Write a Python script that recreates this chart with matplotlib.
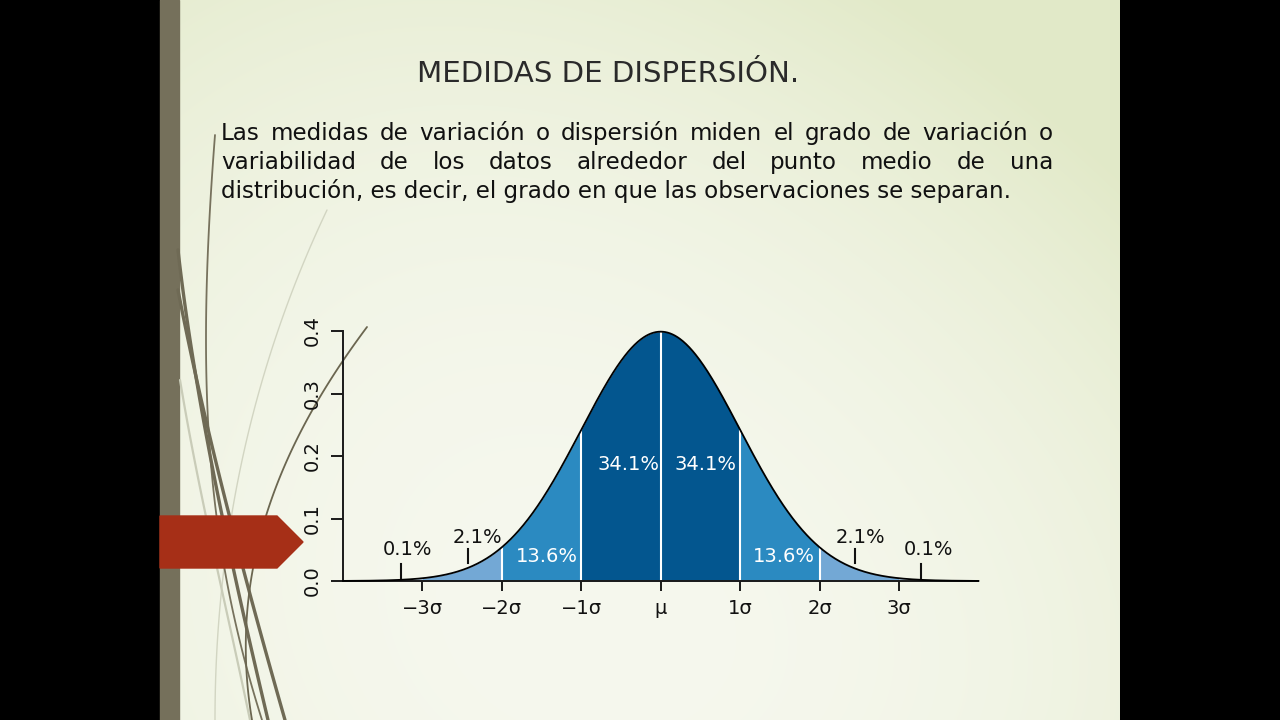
import numpy as np
import matplotlib
matplotlib.use("Agg")
import matplotlib.pyplot as plt
from matplotlib.patches import Rectangle, Polygon

# ---- chart content ----
sigma_edges = [-4, -3, -2, -1, 0, 1, 2, 3, 4]
band_pct = [0.1, 2.1, 13.6, 34.1, 34.1, 13.6, 2.1, 0.1]
band_colors = ['#b4cfe8', '#73a8d5', '#2b8ac1', '#03568f',
               '#03568f', '#2b8ac1', '#73a8d5', '#b4cfe8']
xtick_pos = [-3, -2, -1, 0, 1, 2, 3]
xtick_labels = ['\u22123\u03c3', '\u22122\u03c3', '\u22121\u03c3', '\u03bc', '1\u03c3', '2\u03c3', '3\u03c3']
ytick_pos = [0.0, 0.1, 0.2, 0.3, 0.4]
ytick_labels = ['0.0', '0.1', '0.2', '0.3', '0.4']

title = 'MEDIDAS DE DISPERSI\u00d3N.'
para_lines = [
    'Las medidas de variaci\u00f3n o dispersi\u00f3n miden el grado de variaci\u00f3n o',
    'variabilidad de los datos alrededor del punto medio de una',
    'distribuci\u00f3n, es decir, el grado en que las observaciones se separan.',
]

W, H = 1280, 720
fig = plt.figure(figsize=(12.8, 7.2), dpi=100, facecolor='black')
renderer = fig.canvas.get_renderer()

# ---- slide background (pixel coordinates) ----
bg = fig.add_axes([0, 0, 1, 1])
bg.set_xlim(0, W)
bg.set_ylim(H, 0)
bg.axis('off')
bg.set_facecolor('black')

yy, xx = np.mgrid[0:H, 160:1120]
d = np.sqrt(((xx - 600) / 720.0) ** 2 + ((yy - 560) / 700.0) ** 2)
d = np.clip(d, 0, 1) ** 2.2
# extra green towards the top right corner
tr = np.clip(((xx - 160) / 960.0) * (1 - yy / 720.0), 0, 1) ** 1.5
d = np.clip(0.75 * d + 0.6 * tr, 0, 1)
c0 = np.array([0.965, 0.972, 0.935])
c1 = np.array([0.885, 0.915, 0.785])
img = c0[None, None, :] * (1 - d[..., None]) + c1[None, None, :] * d[..., None]
bg.imshow(img, extent=[160, 1120, H, 0], aspect='auto', zorder=0)

bg.add_patch(Rectangle((160, 0), 19, H, color='#75705b', zorder=1))


def bez(p0, p1, p2, p3, n=120):
    t = np.linspace(0, 1, n)[:, None]
    p = ((1 - t) ** 3) * np.array(p0) + 3 * ((1 - t) ** 2) * t * np.array(p1) \
        + 3 * (1 - t) * t ** 2 * np.array(p2) + t ** 3 * np.array(p3)
    return p[:, 0], p[:, 1]


# decorative strokes
deco = [
    ((327, 210), (270, 330), (215, 500), (215, 720), '#d2d5c2', 1.0),
    ((180, 380), (200, 500), (225, 600), (250, 720), '#c9ccb8', 1.6),
    ((215, 135), (196, 380), (205, 540), (262, 720), '#77725d', 1.3),
    ((178, 250), (195, 400), (230, 560), (268, 720), '#6f6a55', 2.4),
    ((178, 290), (205, 430), (245, 580), (285, 720), '#6f6a55', 2.4),
    ((367, 327), (290, 430), (225, 560), (252, 720), '#6b6650', 1.3),
]
for p0, p1, p2, p3, col, lw in deco:
    x, y = bez(p0, p1, p2, p3)
    bg.plot(x, y, color=col, lw=lw, zorder=2, solid_capstyle='round')

bg.add_patch(Polygon([(160, 516), (277, 516), (303, 542), (277, 568), (160, 568)],
                     closed=True, color='#a62f17', zorder=3))

FAM = 'DejaVu Sans'


def text_w(s, size):
    t = fig.text(0, 0, s, fontsize=size, family=FAM)
    w = t.get_window_extent(renderer).width
    t.remove()
    return w


# title, sized to its width on the slide
tsize = 20 * 383 / text_w(title, 20)
bg.text(608, 82, title, fontsize=tsize, family=FAM, color='#2a2a2a',
        ha='center', va='baseline', zorder=5)

# justified paragraph
psize = 16 * 792 / text_w(para_lines[2], 16)
x_left, x_right = 221, 1053
baselines = [140, 169, 198]
for i, line in enumerate(para_lines):
    if i == len(para_lines) - 1:
        bg.text(x_left, baselines[i], line, fontsize=psize, family=FAM,
                color='#111111', ha='left', va='baseline', zorder=5)
        continue
    words = line.split(' ')
    widths = [text_w(w, psize) for w in words]
    gap = (x_right - x_left - sum(widths)) / (len(words) - 1)
    x = x_left
    for w, wd in zip(words, widths):
        bg.text(x, baselines[i], w, fontsize=psize, family=FAM,
                color='#111111', ha='left', va='baseline', zorder=5)
        x += wd + gap

# ---- normal distribution chart ----
ax = fig.add_axes([343 / W, 1 - 581 / H, (980 - 343) / W, 250 / H])
ax.set_facecolor('none')
ax.set_zorder(4)

# standard normal density
xs = np.linspace(-4, 4, 801)
pdf = np.exp(-xs ** 2 / 2) / np.sqrt(2 * np.pi)

for k in range(len(band_pct)):
    lo, hi = sigma_edges[k], sigma_edges[k + 1]
    m = (xs >= lo) & (xs <= hi)
    ax.fill_between(xs[m], 0, pdf[m], color=band_colors[k], lw=0, zorder=1)

for e in [-2, -1, 0, 1, 2]:
    ax.plot([e, e], [0, np.exp(-e ** 2 / 2) / np.sqrt(2 * np.pi)],
            color='white', lw=1.5, zorder=2)

ax.plot(xs, pdf, color='black', lw=1.3, zorder=3, clip_on=False)

# percentage labels
lab_x = [-3.19, -2.31, -1.43, -0.41, 0.56, 1.55, 2.52, 3.37]
lab_y = [0.050, 0.069, 0.040, 0.187, 0.187, 0.040, 0.069, 0.050]
for k, p in enumerate(band_pct):
    col = 'white' if 2 <= k <= 5 else '#111111'
    ax.text(lab_x[k], lab_y[k], '%.1f%%' % p, fontsize=14, family=FAM,
            color=col, ha='center', va='center', zorder=5)

# small pointer ticks for the tail labels
for xp, y0, y1 in [(-3.27, 0.005, 0.027), (-2.43, 0.029, 0.051),
                   (2.44, 0.029, 0.051), (3.28, 0.005, 0.027)]:
    ax.plot([xp, xp], [y0, y1], color='#111111', lw=1.5, zorder=5)

ax.set_xlim(-4, 4.02)
ax.set_ylim(0, 0.4)
for s in ['top', 'right']:
    ax.spines[s].set_visible(False)
ax.spines['left'].set_bounds(0, 0.4)
ax.spines['bottom'].set_bounds(-4, 4)
for s in ['left', 'bottom']:
    ax.spines[s].set_linewidth(1.4)
    ax.spines[s].set_color('#1a1a1a')

ax.set_xticks(xtick_pos)
ax.set_xticklabels(xtick_labels, fontsize=14, family=FAM, color='#111111')
ax.set_yticks(ytick_pos)
ax.set_yticklabels(ytick_labels, fontsize=14, family=FAM, color='#111111',
                   rotation=90, va='center')
ax.tick_params(axis='x', length=7, width=1.4, pad=6, color='#1a1a1a')
ax.tick_params(axis='y', length=9, width=1.4, pad=6, color='#1a1a1a')

fig.savefig('out.png', dpi=100, facecolor='black')
